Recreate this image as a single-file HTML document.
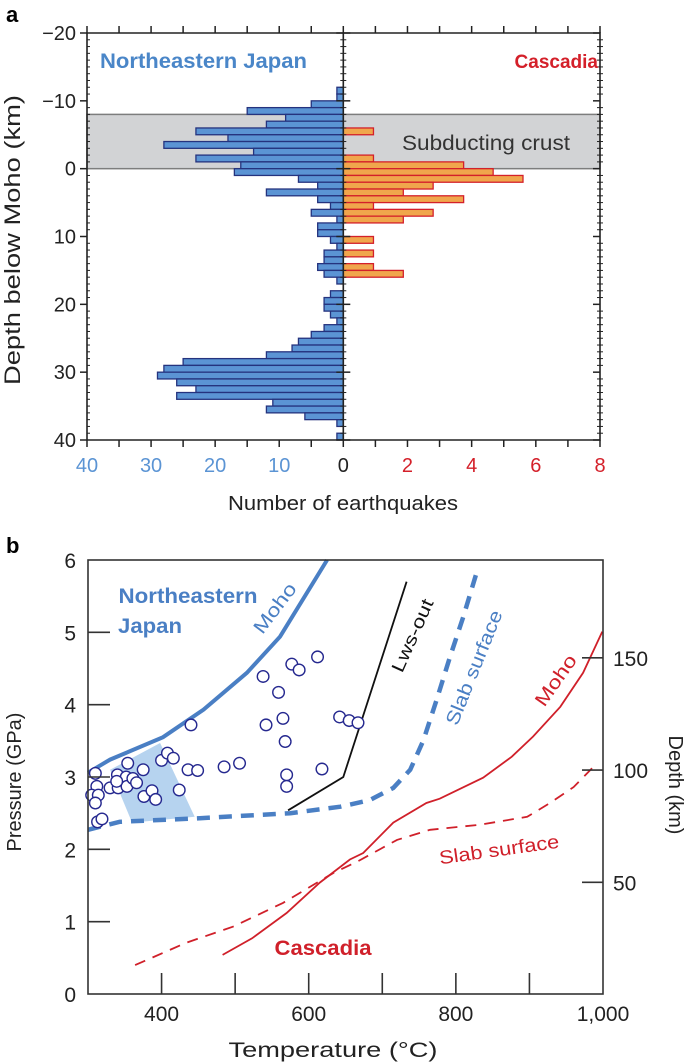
<!DOCTYPE html>
<html><head><meta charset="utf-8"><style>
html,body{margin:0;padding:0;background:#fff;}
svg{display:block;font-family:"Liberation Sans",Arial,sans-serif;}
</style></head><body>
<svg id="fig" width="685" height="1062" viewBox="0 0 685 1062" xmlns="http://www.w3.org/2000/svg">
<text x="6" y="22" font-size="22" font-weight="bold">a</text>
<text x="6" y="553" font-size="22" font-weight="bold">b</text>
<g id="pa"></g>
<g id="pb"></g>
</svg>
<script>
// ---------- Panel a data ----------
const depthBins = [-12,-11,-10,-9,-8,-7,-6,-5,-4,-3,-2,-1,0,1,2,3,4,5,6,7,8,9,10,11,12,13,14,15,16,17,18,19,20,21,22,23,24,25,26,27,28,29,30,31,32,33,34,35,36,37,38,39];
const japanCounts = [1,1,5,15,9,12,23,18,28,14,23,16,17,7,4,12,4,2,5,1,4,4,2,1,3,3,4,3,1,0,2,3,3,2,1,3,5,7,8,12,25,28,29,26,23,26,11,12,6,1,0,1];
const cascBins = [-6,-2,-1,0,1,2,3,4,5,6,7,10,12,14,15];
const cascCounts = [0.94,0.94,3.75,4.67,5.6,2.8,1.87,3.75,0.94,2.8,1.87,0.94,0.94,0.94,1.87];
const depthTicks = [-20,-10,0,10,20,30,40];
const japanTicks = [40,30,20,10];
const cascTicks = [2,4,6,8];
const crustTop = -8, crustBottom = 0;

// ---------- Panel b data ----------
const jMohoT = [300,330,402,457,516,561,625];
const jMohoP = [3.06,3.24,3.55,3.93,4.44,4.94,6.0];
const jSlabT = [300,343,452,575,643,683,715,738,756,774,792,810,828];
const jSlabP = [2.27,2.38,2.43,2.50,2.59,2.68,2.85,3.10,3.51,4.07,4.66,5.21,5.82];
const lwsT = [572,647,733];
const lwsP = [2.54,3.0,5.70];
const cMohoT = [483,523,570,615,656,674,715,760,778,837,876,905,942,973,999];
const cMohoP = [0.54,0.77,1.12,1.54,1.86,1.95,2.37,2.64,2.70,2.99,3.28,3.56,3.97,4.44,5.01];
const cSlabT = [364,434,497,565,633,666,720,765,833,897,928,960,987];
const cSlabP = [0.40,0.71,0.93,1.26,1.67,1.83,2.13,2.27,2.34,2.45,2.64,2.86,3.14];
const shadeT = [330,398,445,360];
const shadeP = [3.10,3.47,2.45,2.37];
const eqT = [310,312,305,314,310,313,319,330,340,341,352,353,361,366,354,375,339,376,387,392,400,408,416,424,436,449,485,506,440,538,559,577,587,612,542,565,568,570,570,618,642,655,667];
const eqP = [3.05,2.87,2.75,2.75,2.64,2.38,2.42,2.85,3.03,2.85,3.00,2.87,2.98,2.92,3.19,3.10,2.94,2.73,2.81,2.69,3.23,3.33,3.26,2.82,3.10,3.09,3.14,3.19,3.72,4.39,4.17,4.56,4.48,4.66,3.72,3.81,3.49,3.03,2.87,3.11,3.83,3.78,3.75];
const tempTicks = [400,600,800,1000];
const tempMinor = [500,700,900];
const presTicks = [0,1,2,3,4,5,6];
const depthKmTicks = [50,100,150];

const NS="http://www.w3.org/2000/svg";
function mk(parent,tag,attrs,text){const e=document.createElementNS(NS,tag);for(const k in attrs)e.setAttribute(k,attrs[k]);if(text!==undefined)e.textContent=text;parent.appendChild(e);return e;}

// ---------- Panel a ----------
const pa=document.getElementById('pa');
const L=87,R=600,T0=33,B0=440,X0=343.3;
const yD=d=>T0+(d+20)*(B0-T0)/60;
const xJ=c=>X0-c*(X0-L)/40;
const xC=c=>X0+c*(R-X0)/8;
const DARK="#25337e", BLUE="#5b94d4", ORANGE="#f0a64c", RED="#d4202a";

let band=mk(pa,'rect',{x:L,y:yD(crustTop),width:R-L,height:yD(crustBottom)-yD(crustTop),fill:'#d2d3d5',stroke:'#7d7d7d','stroke-width':1.5});



japanCounts.forEach((c,i)=>{
  if(c<=0)return;
  const r=mk(pa,'rect',{x:xJ(c),y:yD(depthBins[i]),width:X0-xJ(c),height:yD(depthBins[i]+1)-yD(depthBins[i]),fill:BLUE,stroke:DARK,'stroke-width':1.3});
  
  
});
cascCounts.forEach((c,i)=>{
  const r=mk(pa,'rect',{x:X0,y:yD(cascBins[i]),width:xC(c)-X0,height:yD(cascBins[i]+1)-yD(cascBins[i]),fill:ORANGE,stroke:RED,'stroke-width':1.3});
  
  
});
let st=mk(pa,'text',{x:402,y:150,'font-size':21,fill:'#333',textLength:168,lengthAdjust:'spacingAndGlyphs'},'Subducting crust');



mk(pa,'path',{d:`M${L},${T0}H${R}V${B0}H${L}Z M${X0},${T0}V${B0}`,fill:'none',stroke:'#222','stroke-width':1.6});
for(let d=-20;d<=40;d++){
  const y=yD(d), maj=d%10===0;
  if(maj){mk(pa,'line',{x1:L-7,x2:L,y1:y,y2:y,stroke:'#222','stroke-width':1.5});
    mk(pa,'line',{x1:X0-7,x2:X0+7,y1:y,y2:y,stroke:'#222','stroke-width':1.5});
    mk(pa,'line',{x1:R-7,x2:R,y1:y,y2:y,stroke:'#222','stroke-width':1.5});}
  else{mk(pa,'line',{x1:L,x2:L+3,y1:y,y2:y,stroke:'#222','stroke-width':1});
    mk(pa,'line',{x1:X0-3,x2:X0+3,y1:y,y2:y,stroke:'#222','stroke-width':1});
    mk(pa,'line',{x1:R-3,x2:R+3,y1:y,y2:y,stroke:'#222','stroke-width':1});}
}
depthTicks.forEach(d=>{
  const t=mk(pa,'text',{x:76,y:yD(d)+7,'font-size':20,'text-anchor':'end',fill:'#222'},d<0?'\u2212'+(-d):String(d));
  
  
});
for(let c=0;c<=40;c+=5){const x=xJ(c);mk(pa,'line',{x1:x,x2:x,y1:T0-7,y2:T0,stroke:'#222','stroke-width':1.5});mk(pa,'line',{x1:x,x2:x,y1:B0,y2:B0+7,stroke:'#222','stroke-width':1.5});}
for(let c=1;c<=8;c++){const x=xC(c);mk(pa,'line',{x1:x,x2:x,y1:T0-7,y2:T0,stroke:'#222','stroke-width':1.5});mk(pa,'line',{x1:x,x2:x,y1:B0,y2:B0+7,stroke:'#222','stroke-width':1.5});}
japanTicks.forEach(c=>{const t=mk(pa,'text',{x:xJ(c),y:472,'font-size':20,'text-anchor':'middle',fill:BLUE},String(c));
  
  });
let z=mk(pa,'text',{x:X0,y:472,'font-size':20,'text-anchor':'middle',fill:'#222'},'0');


cascTicks.forEach(c=>{const t=mk(pa,'text',{x:xC(c),y:472,'font-size':20,'text-anchor':'middle',fill:RED},String(c));
  
  });
let xt=mk(pa,'text',{x:228,y:510,'font-size':20,fill:'#222',textLength:230,lengthAdjust:'spacingAndGlyphs'},'Number of earthquakes');


let yt=mk(pa,'text',{x:0,y:0,'font-size':22,'text-anchor':'middle',fill:'#222',transform:'translate(20,240) rotate(-90)',textLength:290,lengthAdjust:'spacingAndGlyphs'},'Depth below Moho (km)');


let jt=mk(pa,'text',{x:100,y:68,'font-size':21,'font-weight':'bold',fill:'#4a86c8',textLength:207,lengthAdjust:'spacingAndGlyphs'},'Northeastern Japan');


let ct=mk(pa,'text',{x:598,y:68,'font-size':19,'font-weight':'bold',fill:RED,'text-anchor':'end'},'Cascadia');



// ---------- Panel b ----------
const pb=document.getElementById('pb');
const bL=88,bR=603,bT=560,bB=994;
const xT=t=>bL+(t-300)*(bR-bL)/700;
const yP=p=>bB-p*(bB-bT)/6;
const yK=k=>994.6-k*2.245;
const MB="#4a7fc4", CR="#d0202a";
const pts=(ts,ps)=>ts.map((t,i)=>xT(t).toFixed(1)+','+yP(ps[i]).toFixed(1)).join(' ');

let sh=mk(pb,'polygon',{points:pts(shadeT,shadeP),fill:'#a9cbec',opacity:0.85});


let l1=mk(pb,'polyline',{points:pts(jMohoT,jMohoP),fill:'none',stroke:MB,'stroke-width':4});


let l2=mk(pb,'polyline',{points:pts(jSlabT,jSlabP),fill:'none',stroke:MB,'stroke-width':4.5,'stroke-dasharray':'13,9'});


let l3=mk(pb,'polyline',{points:pts(lwsT,lwsP),fill:'none',stroke:'#111','stroke-width':1.8});


let l4=mk(pb,'polyline',{points:pts(cMohoT,cMohoP),fill:'none',stroke:CR,'stroke-width':1.8});


let l5=mk(pb,'polyline',{points:pts(cSlabT,cSlabP),fill:'none',stroke:CR,'stroke-width':1.8,'stroke-dasharray':'11,8'});


eqT.forEach((t,i)=>{
  const c=mk(pb,'circle',{cx:xT(t),cy:yP(eqP[i]),r:5.8,fill:'#fff',stroke:'#25288f','stroke-width':1.4});
  
  
});
mk(pb,'rect',{x:bL,y:bT,width:bR-bL,height:bB-bT,fill:'none',stroke:'#333','stroke-width':1.6});
presTicks.forEach(p=>{
  if(p>0&&p<6)mk(pb,'line',{x1:bL,x2:bL+22,y1:yP(p),y2:yP(p),stroke:'#333','stroke-width':1.6});
  const t=mk(pb,'text',{x:76,y:yP(p)+8,'font-size':21,'text-anchor':'end',fill:'#222'},String(p));
  
  
});
tempMinor.forEach(t=>mk(pb,'line',{x1:xT(t),x2:xT(t),y1:bB,y2:bB-21,stroke:'#333','stroke-width':1.6}));
tempTicks.forEach(t=>{
  if(t<1000)mk(pb,'line',{x1:xT(t),x2:xT(t),y1:bB,y2:bB-21,stroke:'#333','stroke-width':1.6});
  const e=mk(pb,'text',{x:xT(t),y:1021,'font-size':21,'text-anchor':'middle',fill:'#222'},t===1000?'1,000':String(t));
  
  
});
depthKmTicks.forEach(k=>{
  mk(pb,'line',{x1:bR-21,x2:bR,y1:yK(k),y2:yK(k),stroke:'#333','stroke-width':1.6});
  const e=mk(pb,'text',{x:613,y:yK(k)+8,'font-size':21,fill:'#222'},String(k));
  
  
});
function lab(txt,x,y,rot,size,fill,bold,name,len){
  const a={x:0,y:0,'font-size':size,fill:fill,'font-weight':bold?'bold':'normal','text-anchor':'middle',transform:`translate(${x},${y}) rotate(${rot})`};
  if(len){a.textLength=len;a.lengthAdjust='spacingAndGlyphs';}
  const e=mk(pb,'text',a,txt);
  
  
}
lab('Pressure (GPa)',21,782,-90,20,'#222',false,'pressure-axis-title');
lab('Depth (km)',669,785,90,20,'#222',false,'depth-axis-title');
lab('Temperature (\u00b0C)',333,1057,0,21,'#222',false,'temperature-axis-title',209);
lab('Northeastern',188,603,0,21,MB,true,'japan-label-1',139);
lab('Japan',150,633,0,21,MB,true,'japan-label-2',64);
lab('Moho',280,612,-53,19,MB,false,'japan-moho-label',58);
lab('Lws-out',418,638,-66,18,'#111',false,'lws-out-label',78);
lab('Slab surface',480,670,-68,19,MB,false,'japan-slab-label',122);
lab('Moho',561,684,-55,19,CR,false,'cascadia-moho-label',58);
lab('Slab surface',500,856,-8,19,CR,false,'cascadia-slab-label',121);
lab('Cascadia',323,955,0,21,CR,true,'cascadia-label',97);
</script>
</body></html>
